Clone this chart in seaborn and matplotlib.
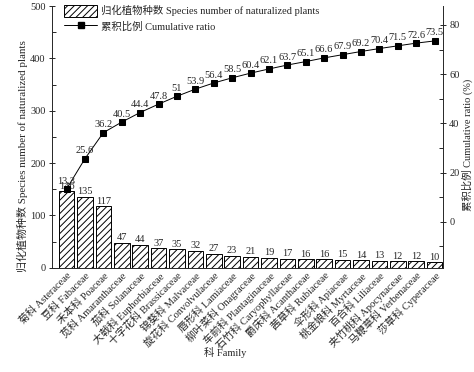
import numpy as np
import pandas as pd
import matplotlib
matplotlib.use("Agg")
import matplotlib.pyplot as plt
import seaborn as sns
from matplotlib.ticker import MultipleLocator
from matplotlib.patches import Patch
from matplotlib.lines import Line2D

families = ["菊科 Asteraceae", "豆科 Fabaceae", "禾本科 Poaceae", "苋科 Amaranthaceae",
            "茄科 Solanaceae", "大戟科 Euphorbiaceae", "十字花科 Brassicaceae", "锦葵科 Malvaceae",
            "旋花科 Convolvulaceae", "唇形科 Lamiaceae", "柳叶菜科 Onagraceae", "车前科 Plantaginaceae",
            "石竹科 Caryophyllaceae", "爵床科 Acanthaceae", "茜草科 Rubiaceae", "伞形科 Apiaceae",
            "桃金娘科 Myrtaceae", "百合科 Liliaceae", "夹竹桃科 Apocynaceae", "马鞭草科 Verbenaceae",
            "莎草科 Cyperaceae"]
species = [146, 135, 117, 47, 44, 37, 35, 32, 27, 23, 21, 19, 17, 16, 16, 15, 14, 13, 12, 12, 10]
cumulative = [13.3, 25.6, 36.2, 40.5, 44.4, 47.8, 51, 53.9, 56.4, 58.5, 60.4, 62.1, 63.7, 65.1,
              66.6, 67.9, 69.2, 70.4, 71.5, 72.6, 73.5]
bar_legend = "归化植物种数 Species number of naturalized plants"
line_legend = "累积比例 Cumulative ratio"
ylabel_left = "归化植物种数 Species number of naturalized plants"
ylabel_right = "累积比例 Cumulative ratio (%)"
xlabel = "科 Family"

sns.set_style("ticks")
plt.rcParams['font.family'] = ['Liberation Serif', 'Noto Sans CJK SC']
plt.rcParams['hatch.linewidth'] = 0.7
FS = 7.5

W, H = 474, 372
fig = plt.figure(figsize=(W / 100, H / 100), dpi=100)
L, R, T, B = 52, 443, 6, 267.7
ax = fig.add_axes([L / W, 1 - B / H, (R - L) / W, (B - T) / H])

df = pd.DataFrame({"family": families, "species": species, "cum": cumulative,
                   "pos": np.arange(len(families))})
sns.barplot(data=df, x="family", y="species", color="white", edgecolor="black",
            linewidth=0.7, width=0.85, ax=ax, saturation=1)
for p in ax.patches:
    p.set_hatch("/////")
    p.set_facecolor("white")
    p.set_edgecolor("black")

for i, v in enumerate(species):
    ax.annotate(str(v), (i, v), xytext=(0, 0.5), textcoords="offset points",
                ha="center", va="bottom", fontsize=FS)

ax.set_xlim(-0.79, 20.46)
ax.set_ylim(0, 500)
ax.yaxis.set_major_locator(MultipleLocator(100))
ax.yaxis.set_minor_locator(MultipleLocator(50))
ax.tick_params(axis="y", which="major", direction="inout", length=5, width=0.7, labelsize=FS, pad=2)
ax.tick_params(axis="y", which="minor", direction="in", length=3, width=0.7)
ax.tick_params(axis="x", which="major", direction="in", length=3, width=0.7, pad=2)
ax.set_xticks(np.arange(len(families)))
ax.set_xticklabels(families, rotation=45, ha="right", va="top", rotation_mode="anchor", fontsize=FS)
ax.set_xlabel("")
ax.set_ylabel("")
for s in ["left", "bottom"]:
    ax.spines[s].set_linewidth(0.7)
ax.spines["top"].set_visible(False)
ax.spines["right"].set_visible(False)

ax2 = ax.twinx()
sns.lineplot(data=df, x="pos", y="cum", color="black", linewidth=0.7, marker="s",
             markersize=4.8, markeredgecolor="black", ax=ax2)
for i, v in enumerate(cumulative):
    ax2.annotate(f"{v:g}", (i, v), xytext=(0, 2.5), textcoords="offset points",
                 ha="center", va="bottom", fontsize=FS)
ax2.set_ylim(-18.7, 87.7)
ax2.set_xlim(-0.79, 20.46)
ax2.set_yticks([0, 20, 40, 60, 80])
ax2.yaxis.set_minor_locator(MultipleLocator(10))
ax2.tick_params(axis="y", which="major", direction="inout", length=5, width=0.7, labelsize=FS, pad=2)
ax2.tick_params(axis="y", which="minor", direction="in", length=3, width=0.7)
ax2.set_xlabel("")
ax2.set_ylabel("")
ax2.spines["top"].set_visible(False)
ax2.spines["left"].set_visible(False)
ax2.spines["bottom"].set_visible(False)
ax2.spines["right"].set_linewidth(0.7)

fig.text(22 / W, 1 - 156 / H, ylabel_left, rotation=90, ha="center", va="center", fontsize=7.9)
fig.text(467 / W, 1 - 145 / H, ylabel_right, rotation=90, ha="center", va="center", fontsize=FS)

handles = [Patch(facecolor="white", edgecolor="black", hatch="/////", linewidth=0.7),
           Line2D([0], [0], color="black", linewidth=0.7, marker="s", markersize=4.8)]
fig.legend(handles, [bar_legend, line_legend], loc="upper left",
           bbox_to_anchor=(64 / W, 1 - 5 / H), frameon=False, fontsize=FS,
           handlelength=3.2, handleheight=1.4, handletextpad=0.4, labelspacing=0.3,
           borderaxespad=0, borderpad=0)

fig.text(225 / W, 1 - 353 / H, xlabel, ha="center", va="center", fontsize=FS)

fig.savefig("out.png", dpi=100)
